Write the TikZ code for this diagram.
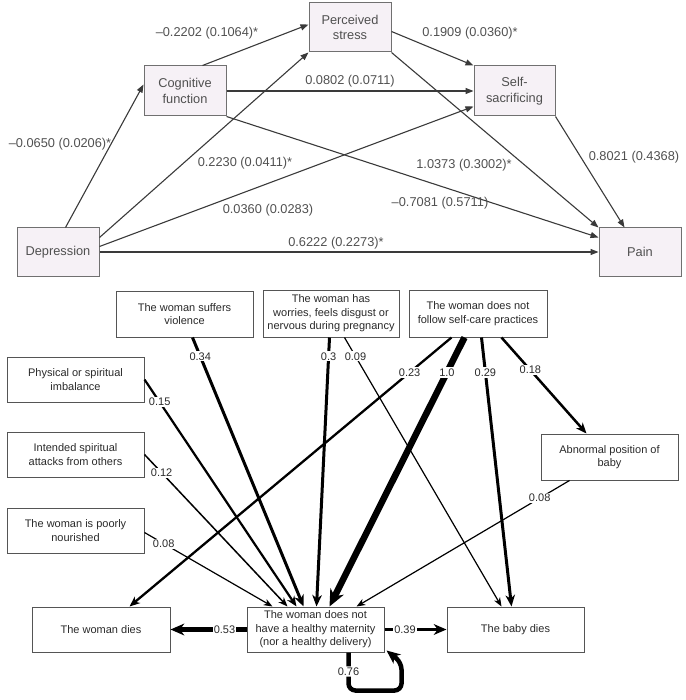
\documentclass[tikz,border=0pt]{standalone}
\usepackage{fontspec}
\setmainfont{Liberation Sans}
\usetikzlibrary{arrows.meta,calc}
\definecolor{tbox}{HTML}{F6F1F6}
\definecolor{tborder}{HTML}{707070}
\definecolor{ttext}{HTML}{505050}
\definecolor{tline}{HTML}{3A3A3A}
\definecolor{btext}{HTML}{2A2A2A}
\definecolor{bborder}{HTML}{555555}
\begin{document}
\begin{tikzpicture}[x=1pt,y=-1pt,
 tnode/.style={draw=tborder, fill=tbox, line width=1pt, text=ttext, align=center, font=\fontsize{12.8}{15.5}\selectfont, inner sep=0pt},
 tlab/.style={text=ttext, font=\fontsize{12.8}{15.5}\selectfont, inner sep=0pt},
 tarr/.style={draw=tline, line width=1.1pt, -{Triangle[length=8pt,width=6pt]}},
 bnode/.style={draw=bborder, fill=white, line width=1pt, text=btext, align=center, font=\fontsize{11}{13.5}\selectfont, minimum width=137pt, minimum height=46pt, inner sep=0pt},
 blab/.style={text=btext, fill=white, font=\fontsize{11}{13}\selectfont, inner sep=1.2pt},
 barr/.style={draw=black, line width=#1, -{Stealth[length=7pt 1.5, width=5pt 1.5, inset=2pt 0.5]}},
]
\useasboundingbox (0,0) rectangle (685,700);

% ---------- top diagram ----------
\node[tnode, minimum width=82pt, minimum height=48pt] (dep) at (58,252) {Depression};
\node[tnode, minimum width=82pt, minimum height=50pt] (cog) at (185,91) {Cognitive\\function};
\node[tnode, minimum width=82pt, minimum height=49pt] (per) at (350,27.5) {Perceived\\stress};
\node[tnode, minimum width=81pt, minimum height=50pt] (self) at (514.5,91) {Self-\\sacrificing};
\node[tnode, minimum width=82pt, minimum height=48pt] (pain) at (640,252) {Pain};

\draw[tarr] ($(dep.north west)+(49,0)$) -- ($(cog.north west)+(0,19)$);
\draw[tarr] ($(cog.north west)+(59,0)$) -- ($(per.north west)+(0,22)$);
\draw[tarr] ($(dep.north east)+(0,10)$) -- (per.south west);
\draw[tarr] (cog.east) -- (self.west);
\draw[tarr] (cog.south east) -- ($(pain.north west)+(0,10)$);
\draw[tarr] (per.south east) -- (pain.north west);
\draw[tarr] ($(per.north east)+(0,29)$) -- (self.north west);
\draw[tarr] ($(dep.north east)+(0,19)$) -- ($(self.north west)+(0,41)$);
\draw[tarr] (dep.east) -- (pain.west);
\draw[tarr] (self.south east) -- ($(pain.north west)+(26,0)$);

\node[tlab] (l1) at (60,144) {\textendash0.0650 (0.0206)*};
\node[tlab] (l2) at (207,33) {\textendash0.2202 (0.1064)*};
\node[tlab] (l3) at (245,163) {0.2230 (0.0411)*};
\node[tlab] (l4) at (350,81) {0.0802 (0.0711)};
\node[tlab] (l5) at (440,203) {\textendash0.7081 (0.5711)};
\node[tlab] (l6) at (464,165) {1.0373 (0.3002)*};
\node[tlab] (l7) at (470,33) {0.1909 (0.0360)*};
\node[tlab] (l8) at (268,210) {0.0360 (0.0283)};
\node[tlab] (l9) at (336,243) {0.6222 (0.2273)*};
\node[tlab] (l10) at (634,157) {0.8021 (0.4368)};

% ---------- bottom diagram ----------
\node[bnode] (vio) at (184.5,314) {The woman suffers\\violence};
\node[bnode, minimum width=136pt, minimum height=47pt] (wor) at (331,313.5) {The woman has\\worries, feels disgust or\\nervous during pregnancy};
\node[bnode, minimum width=138pt, minimum height=47pt] (care) at (478,313.5) {The woman does not\\follow self-care practices};
\node[bnode, minimum height=45pt] (phys) at (75.5,379.5) {Physical or spiritual\\imbalance};
\node[bnode, minimum height=45pt] (att) at (75.5,454.5) {Intended spiritual\\attacks from others};
\node[bnode, minimum height=45pt] (nour) at (75.5,530.5) {The woman is poorly\\nourished};
\node[bnode] (abn) at (609.5,457) {Abnormal position of\\baby};
\node[bnode, minimum width=138pt, minimum height=45pt] (wd) at (101,629.5) {The woman dies};
\node[bnode, minimum height=45pt] (mat) at (315.5,629.5) {The woman does not\\have a healthy maternity\\(nor a healthy delivery)};
\node[bnode, minimum height=45pt] (bd) at (515.5,629.5) {The baby dies};

\draw[barr=1.2pt] ($(nour.north east)+(0,25)$) -- node[blab,pos=0.15](b1){0.08} ($(mat.north west)+(26,0)$);
\draw[barr=1.5pt] ($(att.north east)+(0,23)$) -- node[blab,pos=0.12](b2){0.12} ($(mat.north west)+(41,0)$);
\draw[barr=2.2pt] ($(phys.north east)+(0,23)$) -- node[blab,pos=0.1](b3){0.15} ($(mat.north west)+(50,0)$);
\draw[barr=3pt] ($(vio.south west)+(77,0)$) -- node[blab,pos=0.07](b4){0.34} ($(mat.north west)+(57,0)$);
\draw[barr=3pt] ($(wor.south west)+(67,0)$) -- node[blab,pos=0.07](b5){0.3} ($(mat.north west)+(70,0)$);
\draw[barr=1.2pt] ($(wor.south west)+(82,0)$) -- node[blab,pos=0.07](b6){0.09} ($(bd.north west)+(55,0)$);
\draw[barr=2.3pt] ($(care.south west)+(43,0)$) -- node[blab,pos=0.13](b7){0.23} ($(wd.north west)+(98,0)$);
\draw[barr=6.5pt] ($(care.south west)+(56,0)$) -- node[blab,pos=0.13](b8){1.0} ($(mat.north west)+(83,0)$);
\draw[barr=3pt] ($(care.south west)+(73,0)$) -- node[blab,pos=0.13](b9){0.29} ($(bd.north west)+(65,0)$);
\draw[barr=2.5pt] ($(care.south west)+(93,0)$) -- node[blab,pos=0.34](b10){0.18} ($(abn.north west)+(46,0)$);
\draw[barr=1.2pt] ($(abn.south west)+(29,0)$) -- node[blab,pos=0.14](b11){0.08} ($(mat.north west)+(110,0)$);
\draw[barr=4.5pt] (mat.west) -- node[blab,pos=0.29](b12){0.53} (wd.east);
\draw[barr=3.8pt] (mat.east) -- node[blab,pos=0.33](b13){0.39} (bd.west);
\draw[barr=4.5pt, rounded corners=7pt] ($(mat.south west)+(102,0)$) -- node[blab,pos=0.5](b14){0.76} ++(0,38) -- ++(53,0) -- ++(0,-28) -- ($(mat.south east)+(2,-2)$);
\end{tikzpicture}
\end{document}
